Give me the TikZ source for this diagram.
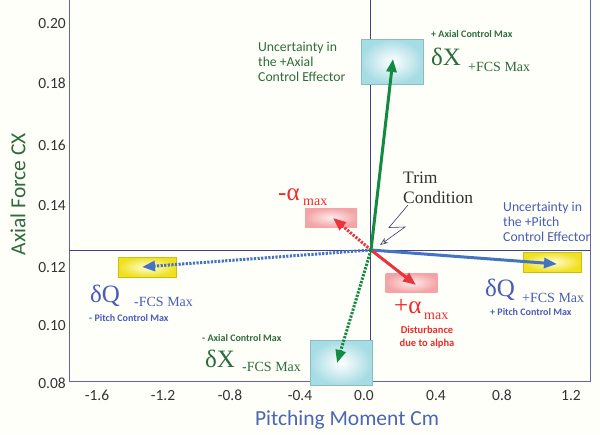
\documentclass[tikz,border=0pt]{standalone}
\usepackage{fontspec}
\setmainfont{Liberation Serif}
\setsansfont{Carlito}
\usetikzlibrary{arrows.meta}
\definecolor{framec}{HTML}{6464A8}
\definecolor{axisc}{HTML}{40408C}
\definecolor{dgreen}{HTML}{2F6B3C}
\definecolor{garr}{HTML}{138A44}
\definecolor{redc}{HTML}{EE2A2A}
\definecolor{rarr}{HTML}{E8353B}
\definecolor{bluet}{HTML}{4A5CB8}
\definecolor{bluel}{HTML}{4A66B4}
\definecolor{barr}{HTML}{4472C4}
\definecolor{trimc}{HTML}{333333}
\definecolor{zigc}{HTML}{3A3A6A}
\definecolor{cyanbox}{HTML}{A6DCE4}
\definecolor{yelbox}{HTML}{F0E01E}
\definecolor{pinkbox}{HTML}{F4A4A6}
\newcommand\fsz[1]{\fontsize{#1}{#1}\selectfont}
\begin{document}
\begin{tikzpicture}[x=1pt,y=-1pt,
  tick/.style={inner sep=0pt,font=\sffamily\fsz{15.5},text=black!80},
  unc/.style={inner sep=0pt,anchor=base west,align=left,font=\sffamily\fontsize{13.7}{14.8}\selectfont},
  small/.style={inner sep=0pt,anchor=base west,font=\sffamily\bfseries\fsz{10}},
  big/.style={inner sep=0pt,anchor=base west,font=\fsz{25}},
  sub/.style={inner sep=0pt,anchor=base west,font=\fsz{14}},
  gbox/.style={shade,inner color=white,outer color=#1,draw=#1!85!black,line width=0.3pt,minimum width=62pt,minimum height=45pt,inner sep=0pt},
  ybox/.style={shade,inner color=yellow!15,outer color=yelbox,draw=yelbox!85!black,line width=0.3pt,minimum width=58pt,minimum height=20pt,inner sep=0pt},
  pbox/.style={shade,inner color=pinkbox!20,outer color=pinkbox,minimum width=52pt,minimum height=19pt,inner sep=0pt},
  solidarr/.style={line width=3pt,-{Triangle[length=13pt,width=10pt]}},
  dotarr/.style={line width=3pt,dash pattern=on 2.2pt off 1.4pt,-{Triangle[length=13pt,width=10pt]}}
]
\useasboundingbox (0,0) rectangle (600,434);
\fill[white!98!yellow] (0,0) rectangle (600,434);
% frame and axes
\draw[framec,line width=0.9pt] (69,-2) -- (69,381) -- (590,381) -- (590,-2);
\draw[axisc,line width=0.7pt] (69,250) -- (590,250);
\draw[axisc,line width=0.7pt] (370,-2) -- (370,381);
% ticks
\foreach \v/\y in {0.20/23,0.18/83,0.16/145,0.14/205,0.12/267,0.10/325,0.08/383}
  \node[tick,anchor=base east] (ty\y) at (66,\y+5.5) {\v};
\foreach \v/\x in {-1.6/97,-1.2/163,-0.8/230,-0.4/300,0.0/364,0.4/436,0.8/502,1.2/571}
  \node[tick,anchor=base] (tx\x) at (\x,400) {\v};
\node[inner sep=0pt,rotate=90,font=\sffamily\fsz{21.5},text=dgreen] (ylab) at (18,194) {Axial Force CX};
\node[inner sep=0pt,anchor=base,font=\sffamily\fsz{21.5},text=bluel] (xlab) at (347,425) {Pitching Moment Cm};
% boxes
\node[gbox=cyanbox] (boxAxP) at (392,61.5) {};
\node[gbox=cyanbox] (boxAxM) at (341,363) {};
\node[ybox] (boxPiM) at (147,267) {};
\node[ybox] (boxPiP) at (552,262) {};
\node[pbox] (boxAlM) at (331,217.5) {};
\node[pbox] (boxAlP) at (411.5,282.5) {};
% arrows
\coordinate (o) at (371,250);
\coordinate (tAxP) at (393,59);
\coordinate (tAxM) at (337,363);
\coordinate (tAlM) at (333,218);
\coordinate (tAlP) at (416,285);
\coordinate (tPiP) at (557,264);
\coordinate (tPiM) at (142,267);
\draw[solidarr,barr] (o) -- (tPiP);
\draw[dotarr,barr] (o) -- (tPiM);
\draw[solidarr,rarr] (o) -- (tAlP);
\draw[dotarr,rarr] (o) -- (tAlM);
\draw[dotarr,garr] (o) -- (tAxM);
\draw[solidarr,garr] (o) -- (tAxP);
% trim condition
\node[inner sep=0pt,anchor=base west,align=left,font=\fontsize{17.5}{20}\selectfont,text=trimc] (trim) at (403,203) {Trim\\Condition};
\coordinate (z0) at (408,205);
\coordinate (z1) at (389,227.5);
\coordinate (z2) at (405,227);
\coordinate (z3) at (380,245);
\draw[zigc,line width=0.6pt,-{Stealth[open,length=8pt,width=6pt]}] (z0) -- (z1) -- (z2) -- (z3);
% top right labels
\node[unc,text=dgreen] (uncAx) at (258,81) {Uncertainty in\\the +Axial\\Control Effector};
\node[small,text=dgreen] (axPmax) at (431,37) {+ Axial Control Max};
\node[big,text=dgreen] (dXp) at (431,65) {δX};
\node[sub,text=dgreen] (dXpS) at (468,71) {+FCS Max};
% alpha labels
\node[big,text=redc] (amL) at (278,200) {-α};
\node[sub,text=redc] (amLS) at (303,205) {max};
\node[big,text=redc] (apL) at (394,313) {+α};
\node[sub,text=redc] (apLS) at (424,319) {max};
\node[inner sep=0pt,anchor=base,align=center,font=\sffamily\bfseries\fontsize{10.5}{13}\selectfont,text=redc] (dist) at (427,346) {Disturbance\\due to alpha};
% pitch labels
\node[unc,text=bluet] (uncPi) at (503,241) {Uncertainty in\\the +Pitch\\Control Effector};
\node[big,text=bluet] (dQp) at (485,296) {δQ};
\node[sub,text=bluet] (dQpS) at (522,302) {+FCS Max};
\node[small,text=bluet] (piPmax) at (490,315) {+ Pitch Control Max};
\node[big,text=bluet] (dQm) at (90,302) {δQ};
\node[sub,text=bluet] (dQmS) at (134,306) {-FCS Max};
\node[small,text=bluet] (piMmax) at (89,321) {- Pitch Control Max};
% bottom axial labels
\node[small,text=dgreen] (axMmax) at (202,341) {- Axial Control Max};
\node[big,text=dgreen] (dXm) at (205,367) {δX};
\node[sub,text=dgreen] (dXmS) at (242,371) {-FCS Max};
\end{tikzpicture}
\end{document}
